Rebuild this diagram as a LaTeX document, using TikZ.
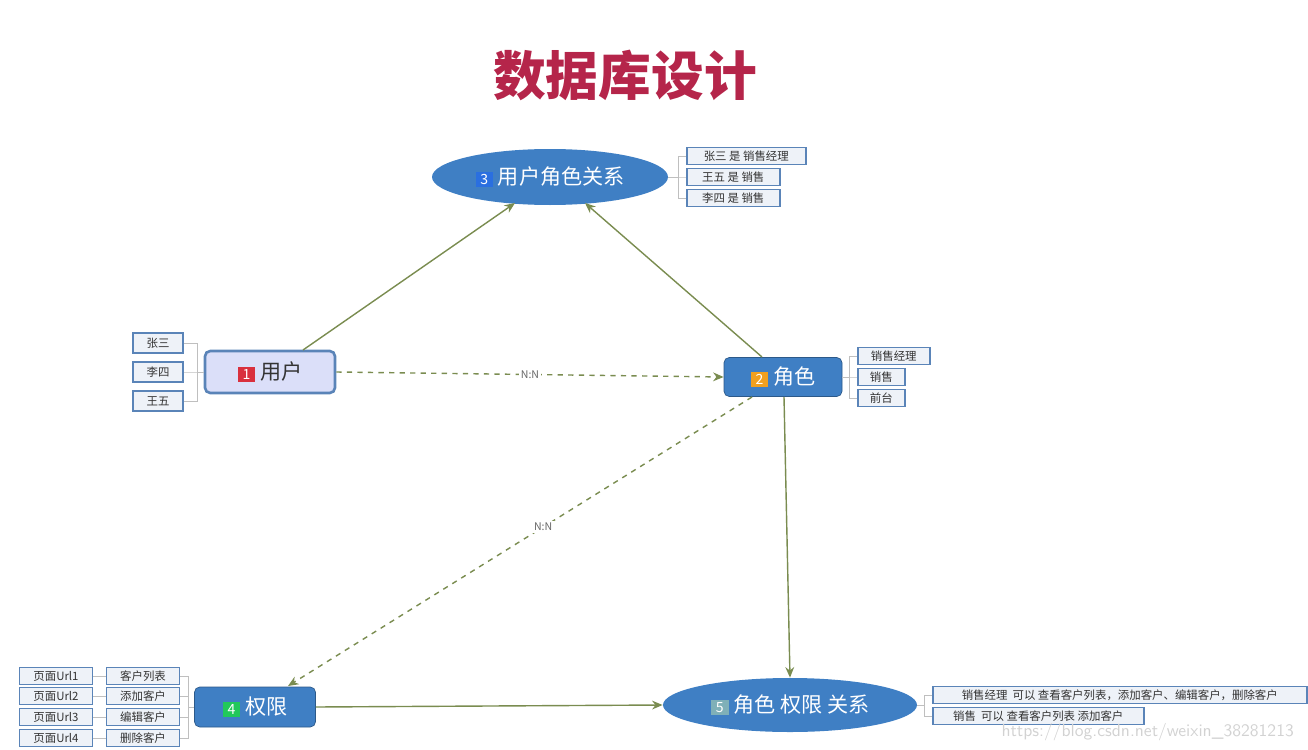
\documentclass[tikz,border=0pt]{standalone}
\usepackage{fontspec}
\setmainfont{Noto Sans CJK SC}
\usetikzlibrary{shapes.geometric,arrows.meta}
\definecolor{olive}{HTML}{7A8C50}
\definecolor{mblue}{HTML}{3F7FC4}
\definecolor{lbord}{HTML}{5A84B8}
\definecolor{lfill}{HTML}{EEF2F8}
\definecolor{title}{HTML}{B5254A}
\definecolor{bgred}{HTML}{D9303E}
\definecolor{bgorange}{HTML}{F0A020}
\definecolor{bggreen}{HTML}{22C85A}
\definecolor{bgblue}{HTML}{2A6FE0}
\definecolor{bgteal}{HTML}{7FB0B8}
\tikzset{
 leaf/.style={draw=lbord,fill=lfill,line width=0.9pt,inner sep=0pt,font=\fontsize{6.5}{7}\selectfont,text=black!80},
 mainbox/.style={draw=mblue!70!black,fill=mblue,rounded corners=3pt,inner sep=0pt,text=white,font=\fontsize{12}{13}\selectfont},
 oval/.style={ellipse,fill=mblue,inner sep=0pt,text=white,font=\fontsize{12}{13}\selectfont},
 link/.style={olive,line width=0.8pt,-{Stealth[length=6pt,width=5pt]}},
 dlink/.style={link,dashed},
 br/.style={gray!50,line width=0.5pt},
 nn/.style={font=\fontsize{6}{7}\itshape\rmfamily,text=gray!80!black,fill=white,inner sep=1pt}
}
\newcommand{\bdg}[2]{{\setlength{\fboxsep}{1.5pt}\colorbox{#1}{\textcolor{white}{\fontsize{8}{9}\selectfont\,#2\,}}}}
\begin{document}
\begin{tikzpicture}[x=0.02cm,y=-0.02cm]
\useasboundingbox (0,0) rectangle (1308,750);
\node[text=title,font=\fontsize{30}{32}\selectfont\bfseries] (t) at (625,75) {数据库设计};
% main nodes
\node[oval,minimum width=236*0.02cm,minimum height=56*0.02cm] (r3) at (550,177) {\bdg{bgblue}{3} 用户角色关系};
\node[mainbox,draw=lbord,line width=1.5pt,fill=blue!8!lfill,text=black!80,minimum width=130*0.02cm,minimum height=42*0.02cm] (u1) at (270,372) {\bdg{bgred}{1} 用户};
\node[mainbox,minimum width=118*0.02cm,minimum height=39*0.02cm] (r2) at (783,377) {\bdg{bgorange}{2} 角色};
\node[mainbox,minimum width=121*0.02cm,minimum height=40*0.02cm] (p4) at (255,707) {\bdg{bggreen}{4} 权限};
\node[oval,minimum width=254*0.02cm,minimum height=54*0.02cm] (r5) at (790,705) {\bdg{bgteal}{5} 角色 权限 关系};
% leaves of 3
\node[leaf,anchor=west,minimum width=119*0.02cm,minimum height=17*0.02cm] (a1) at (686,156) {张三 是 销售经理};
\node[leaf,anchor=west,minimum width=93*0.02cm,minimum height=17*0.02cm] (a2) at (686,177) {王五 是 销售};
\node[leaf,anchor=west,minimum width=93*0.02cm,minimum height=17*0.02cm] (a3) at (686,198) {李四 是 销售};
\foreach \n in {a1,a2,a3}{\draw[br] (\n.west) -- ++(-8,0) |- (r3.east);}
% leaves of 1
\node[leaf,minimum width=50*0.02cm,minimum height=20*0.02cm] (b1) at (158,343) {张三};
\node[leaf,minimum width=50*0.02cm,minimum height=20*0.02cm] (b2) at (158,372) {李四};
\node[leaf,minimum width=50*0.02cm,minimum height=20*0.02cm] (b3) at (158,401) {王五};
\foreach \n in {b1,b2,b3}{\draw[br] (\n.east) -- ++(14,0) |- (u1.west);}
% leaves of 2
\node[leaf,anchor=west,minimum width=72*0.02cm,minimum height=17*0.02cm] (c1) at (857,356) {销售经理};
\node[leaf,anchor=west,minimum width=47*0.02cm,minimum height=17*0.02cm] (c2) at (857,377) {销售};
\node[leaf,anchor=west,minimum width=47*0.02cm,minimum height=17*0.02cm] (c3) at (857,398) {前台};
\foreach \n in {c1,c2,c3}{\draw[br] (\n.west) -- ++(-8,0) |- (r2.east);}
% leaves of 4
\foreach \i/\t/\y in {1/客户列表/676,2/添加客户/696,3/编辑客户/717,4/删除客户/738}{
 \node[leaf,minimum width=73*0.02cm,minimum height=17*0.02cm] (d\i) at (143,\y) {\t};
 \node[leaf,minimum width=73*0.02cm,minimum height=17*0.02cm] (e\i) at (56,\y) {页面Url\i};
 \draw[br] (e\i.east) -- (d\i.west);
 \draw[br] (d\i.east) -- ++(8,0) |- (p4.west);
}
% leaves of 5
\node[leaf,anchor=west,minimum width=374*0.02cm,minimum height=17*0.02cm] (f1) at (932,695) {销售经理\ \ 可以 查看客户列表，添加客户、编辑客户，删除客户};
\node[leaf,anchor=west,minimum width=211*0.02cm,minimum height=17*0.02cm] (f2) at (932,716) {销售\ \ 可以 查看客户列表 添加客户};
\foreach \n in {f1,f2}{\draw[br] (\n.west) -- ++(-8,0) |- (r5.east);}
% links
\coordinate (r3a) at (515,203);
\coordinate (r3b) at (585,203);
\coordinate (u1t) at (303,350);
\coordinate (r2t) at (762,357);
\coordinate (r2b) at (752,397);
\coordinate (r2c) at (784,397);
\coordinate (p4t) at (288,686);
\draw[link] (u1t) -- (r3a);
\draw[link] (r2t) -- (r3b);
\draw[dlink] (u1.east) -- node[nn] {N:N} (r2.west);
\draw[dlink] (r2b) -- node[nn,pos=0.45] {N:N} (p4t);
\draw[link] (r2c) -- (r5.north);
\draw[link] (p4.east) -- (r5.west);
\node[text=gray!35,font=\fontsize{10}{11}\selectfont\sffamily,anchor=east] (wm) at (1300,732) {https://blog.csdn.net/weixin\_38281213};
\end{tikzpicture}
\end{document}
